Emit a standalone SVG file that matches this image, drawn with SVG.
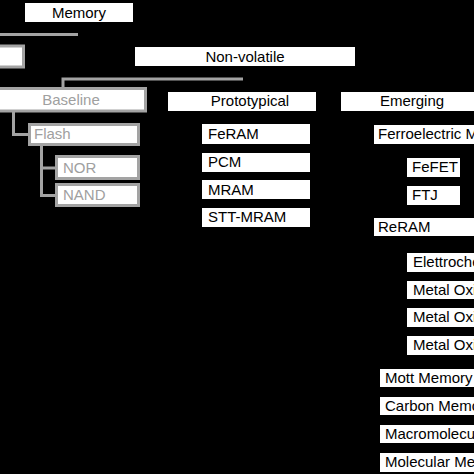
<svg xmlns="http://www.w3.org/2000/svg" width="474" height="474" viewBox="0 0 474 474">
<style>
text{font-family:"Liberation Sans",Arial,sans-serif;font-size:15px;fill:#000}
.w{fill:#fff}
.g{fill:#fff;stroke:#a3a3a3;stroke-width:3}
.gt{fill:#a0a0a0}
.c{fill:none;stroke:#a3a3a3;stroke-width:3}
.m{text-anchor:middle}
</style>
<rect x="0" y="0" width="474" height="474" fill="#000"/>
<g id="connectors">
<path class="c" d="M0 34.5H78"/>
<path class="c" d="M243 79H63V88"/>
<path class="c" d="M13.5 112V134.5H29"/>
<path class="c" d="M41.5 146V195.5H56M41.5 168H56"/>
</g>
<g id="memory"><rect class="w" x="25" y="3" width="108" height="19"/><text class="m" x="79" y="18">Memory</text></g>
<g id="volatile"><rect class="g" x="-5" y="46" width="28.5" height="21"/></g>
<g id="nonvolatile"><rect class="w" x="135" y="47" width="220" height="19"/><text class="m" x="245" y="62">Non-volatile</text></g>
<g id="baseline"><rect class="g" x="-5" y="88.5" width="150.5" height="22.5"/><text class="m gt" x="71" y="105">Baseline</text></g>
<g id="flash"><rect class="g" x="29.5" y="124.5" width="109" height="20"/><text class="gt" x="34" y="139">Flash</text></g>
<g id="nor"><rect class="g" x="56.5" y="156.5" width="82" height="22"/><text class="gt" x="63" y="173">NOR</text></g>
<g id="nand"><rect class="g" x="56.5" y="184.5" width="82" height="21"/><text class="gt" x="63" y="200">NAND</text></g>
<g id="prototypical"><rect class="w" x="168" y="92" width="148" height="19"/><text class="m" x="250" y="106">Prototypical</text></g>
<g id="feram"><rect class="w" x="202" y="124" width="108" height="20"/><text x="208" y="139">FeRAM</text></g>
<g id="pcm"><rect class="w" x="202" y="153" width="108" height="19"/><text x="208" y="167">PCM</text></g>
<g id="mram"><rect class="w" x="202" y="180" width="108" height="19"/><text x="208" y="195">MRAM</text></g>
<g id="sttmram"><rect class="w" x="202" y="208" width="108" height="19"/><text x="208" y="222">STT-MRAM</text></g>
<g id="emerging"><rect class="w" x="341" y="92" width="140" height="19"/><text class="m" x="412" y="106">Emerging</text></g>
<g id="ferroelectric"><rect class="w" x="374" y="125" width="110" height="19"/><text x="378" y="139">Ferroelectric M</text></g>
<g id="fefet"><rect class="w" x="407" y="158" width="53" height="19"/><text x="412" y="172">FeFET</text></g>
<g id="ftj"><rect class="w" x="407" y="186" width="53" height="19"/><text x="412" y="200">FTJ</text></g>
<g id="reram"><rect class="w" x="374" y="218" width="110" height="18"/><text x="378" y="232">ReRAM</text></g>
<g id="elettroch"><rect class="w" x="407" y="253" width="77" height="19"/><text x="413" y="267">Elettroche</text></g>
<g id="metaloxi1"><rect class="w" x="407" y="281" width="77" height="18"/><text x="413" y="295">Metal Oxi</text></g>
<g id="metaloxi2"><rect class="w" x="407" y="308" width="77" height="19"/><text x="413" y="322">Metal Oxi</text></g>
<g id="metaloxi3"><rect class="w" x="407" y="336" width="77" height="19"/><text x="413" y="350">Metal Oxi</text></g>
<g id="mott"><rect class="w" x="380" y="369" width="104" height="18"/><text x="385" y="383">Mott Memory</text></g>
<g id="carbon"><rect class="w" x="380" y="397" width="104" height="18"/><text x="385" y="411">Carbon Memo</text></g>
<g id="macromolecu"><rect class="w" x="380" y="425" width="104" height="18"/><text x="385" y="439">Macromolecu</text></g>
<g id="molecular"><rect class="w" x="380" y="453" width="104" height="19"/><text x="385" y="467">Molecular Me</text></g>
</svg>
